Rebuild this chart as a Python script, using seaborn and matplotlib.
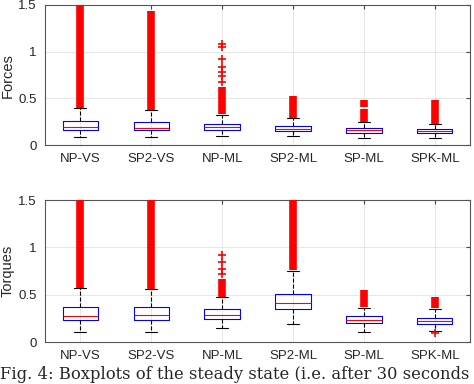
import numpy as np
import matplotlib
matplotlib.use('Agg')
import matplotlib.pyplot as plt
import seaborn as sns

# categories
groups = ['NP-VS', 'SP2-VS', 'NP-ML', 'SP2-ML', 'SP-ML', 'SPK-ML']

# forces: box stats
f_lo = [0.092, 0.092, 0.103, 0.096, 0.078, 0.078]
f_q1 = [0.160, 0.160, 0.163, 0.152, 0.135, 0.128]
f_med = [0.199, 0.188, 0.199, 0.177, 0.160, 0.152]
f_q3 = [0.255, 0.248, 0.227, 0.206, 0.188, 0.174]
f_hi = [0.397, 0.376, 0.323, 0.287, 0.245, 0.230]
# dense outlier bands (start, end) per group
f_band = [[(0.40, 1.52)], [(0.38, 1.44)], [(0.33, 0.62)], [(0.29, 0.53)],
          [(0.25, 0.39), (0.41, 0.48)], [(0.23, 0.48)]]
# single outliers
f_out = [[], [], [0.681, 0.741, 0.787, 0.84, 0.918, 1.046, 1.08], [], [], []]

# torques
t_lo = [0.112, 0.112, 0.147, 0.193, 0.102, 0.115]
t_q1 = [0.235, 0.235, 0.242, 0.351, 0.204, 0.190]
t_med = [0.281, 0.284, 0.288, 0.411, 0.235, 0.225]
t_q3 = [0.368, 0.368, 0.347, 0.512, 0.274, 0.260]
t_hi = [0.568, 0.558, 0.480, 0.754, 0.365, 0.354]
t_band = [[(0.57, 1.52)], [(0.56, 1.52)], [(0.48, 0.67)], [(0.76, 1.52)],
          [(0.37, 0.55)], [(0.36, 0.48)]]
t_out = [[], [], [0.72, 0.77, 0.85, 0.92], [], [], [0.095]]

sns.set_style('white')
plt.rcParams['font.family'] = ['Liberation Sans', 'DejaVu Sans']

fig = plt.figure(figsize=(4.74, 3.84), dpi=100)
ax1 = fig.add_axes([0.095, 0.622, 0.897, 0.365])
ax2 = fig.add_axes([0.095, 0.109, 0.897, 0.370])


def draw(ax, lo, q1, med, q3, hi, band, out, ylabel):
    stats = []
    for i, g in enumerate(groups):
        stats.append({'label': g, 'whislo': lo[i], 'q1': q1[i], 'med': med[i],
                      'q3': q3[i], 'whishi': hi[i], 'fliers': []})
    pos = np.arange(1, len(groups) + 1)
    ax.bxp(stats, positions=pos, widths=0.5, capwidths=0.17, showfliers=False,
           boxprops=dict(color='blue', lw=0.8),
           medianprops=dict(color='red', lw=0.8),
           whiskerprops=dict(color='black', lw=0.8, ls='--'),
           capprops=dict(color='black', lw=0.8))
    for i, segs in enumerate(band):
        for a, b in segs:
            ax.vlines(pos[i], a, b, color='red', lw=5.5, zorder=3)
    xs, ys = [], []
    for i, vals in enumerate(out):
        xs += [pos[i]] * len(vals)
        ys += vals
    if ys:
        sns.scatterplot(x=xs, y=ys, ax=ax, marker='+', color='red', s=30,
                        linewidth=1.2, zorder=4)
    ax.set_xlim(0.5, 6.5)
    ax.set_ylim(0, 1.5)
    ax.set_yticks([0, 0.5, 1, 1.5])
    ax.set_yticklabels(['0', '0.5', '1', '1.5'])
    ax.set_xticks(pos)
    ax.set_xticklabels(groups)
    ax.grid(True, color='#e3e3e3', lw=0.6)
    ax.set_axisbelow(True)
    ax.tick_params(direction='in', top=True, right=True, length=3,
                   labelsize=9.5, color='#444444', pad=6)
    for s in ax.spines.values():
        s.set_color('#555555')
        s.set_linewidth(0.8)
    ax.set_ylabel(ylabel, fontsize=10.5)
    ax.yaxis.set_label_coords(-0.072, 0.5)


draw(ax1, f_lo, f_q1, f_med, f_q3, f_hi, f_band, f_out, 'Forces')
draw(ax2, t_lo, t_q1, t_med, t_q3, t_hi, t_band, t_out, 'Torques')

fig.text(0.0, 0.012, 'Fig. 4: Boxplots of the steady state (i.e. after 30 seconds',
         family='DejaVu Serif', fontsize=11.8, va='baseline', ha='left')

fig.savefig('out.png', dpi=100)
